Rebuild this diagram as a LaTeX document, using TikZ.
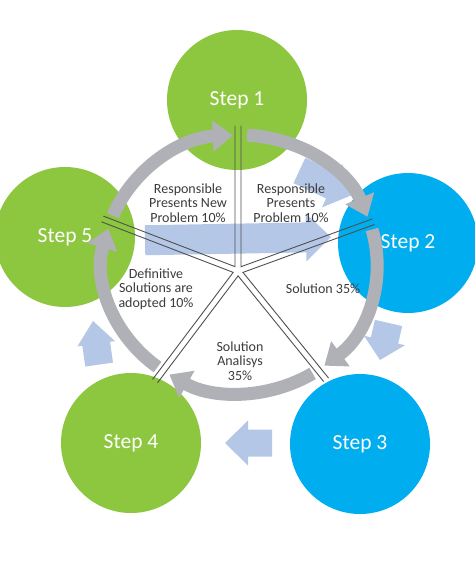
\documentclass[tikz,border=0pt]{standalone}
\usepackage{fontspec}
\setmainfont{Carlito}
\usetikzlibrary{arrows.meta,calc}
\definecolor{stepgreen}{HTML}{8DC63F}
\definecolor{stepblue}{HTML}{00AEEF}
\definecolor{ringgray}{HTML}{B0B1B6}
\definecolor{paleblue}{HTML}{B4C7E7}
\definecolor{txtgray}{HTML}{3C3C3C}
\definecolor{spokegray}{HTML}{505050}
\tikzset{
  stepcircle/.style={circle, minimum size=140pt, inner sep=0pt, text=white,
    font=\fontsize{21.5}{23}\selectfont},
  ringarrow/.style={draw=ringgray, line width=13pt, -{Triangle[width=30pt,length=20pt]}},
  spokeline/.style={draw=spokegray, line width=0.9pt},
  palearrow/.style={fill=paleblue},
  sectortext/.style={align=center, text=txtgray, inner sep=0pt,
    font=\fontsize{14}{14.5}\selectfont}
}
\newcommand{\paleArrow}[7]{% x, y, angle, L, w, hw, hl
  \fill[palearrow, shift={(#1,#2)}, rotate=#3] (0,0) -- (-#7,#6/2) -- (-#7,#5/2)
    -- (-#4,#5/2) -- (-#4,-#5/2) -- (-#7,-#5/2) -- (-#7,-#6/2) -- cycle;}
\begin{document}
\begin{tikzpicture}[x=1pt,y=-1pt]
\useasboundingbox (0,0) rectangle (474,567);
\fill[white] (0,0) rectangle (474,567);
% pale background arrows
\paleArrow{352}{195}{-25}{58}{28}{48}{22}
\paleArrow{380}{360}{-103}{38}{28}{42}{20}
\paleArrow{225}{443}{180}{47}{27}{45}{23}
\paleArrow{93}{321}{98}{44}{28}{38}{23}
\paleArrow{331}{237}{1}{186}{30}{48}{25}
% step circles
\node[stepcircle, fill=stepgreen] (s1) at (237,100) {Step 1};
\node[stepcircle, fill=stepblue]  (s2) at (408,243) {Step 2};
\node[stepcircle, fill=stepblue]  (s3) at (360,444) {Step 3};
\node[stepcircle, fill=stepgreen] (s4) at (131,443) {Step 4};
\node[stepcircle, fill=stepgreen] (s5) at (65,237) {Step 5};
% spokes (sector outlines)
\coordinate (SC) at (238,271);
\foreach \a/\b/\la/\lb in {-127/-51/134/136, -51/20/136/140, 20/90/140/141, 90/159/141/141, 159/233/141/134}{
  \coordinate (V) at ($(SC)+({(\a+\b)/2}:{3pt/sin((\b-\a)/2)})$);
  \draw[spokeline] ($(V)+(\a:{\la*1pt})$) -- (V) -- ($(V)+(\b:{\lb*1pt})$);
}
% ring arrows
\coordinate (RC) at (240,264);
\foreach \s/\e in {158/93, 87/21.5, 15.5/-52, -58/-121, -127/-196}{
  \draw[ringarrow] ($(RC)+(\s:137pt and 129pt)$) arc[start angle=\s, end angle=\e, x radius=137pt, y radius=129pt];
}
% sector texts
\node[sectortext] (t1) at (188,203) {Responsible\\Presents New\\Problem 10\%};
\node[sectortext] (t2) at (291,203) {Responsible\\Presents\\Problem 10\%};
\node[sectortext] (t3) at (323,289) {Solution 35\%};
\node[sectortext] (t4) at (156,289) {Definitive\\Solutions are\\adopted 10\%};
\node[sectortext] (t5) at (240,361) {Solution\\Analisys\\35\%};
\end{tikzpicture}
\end{document}
